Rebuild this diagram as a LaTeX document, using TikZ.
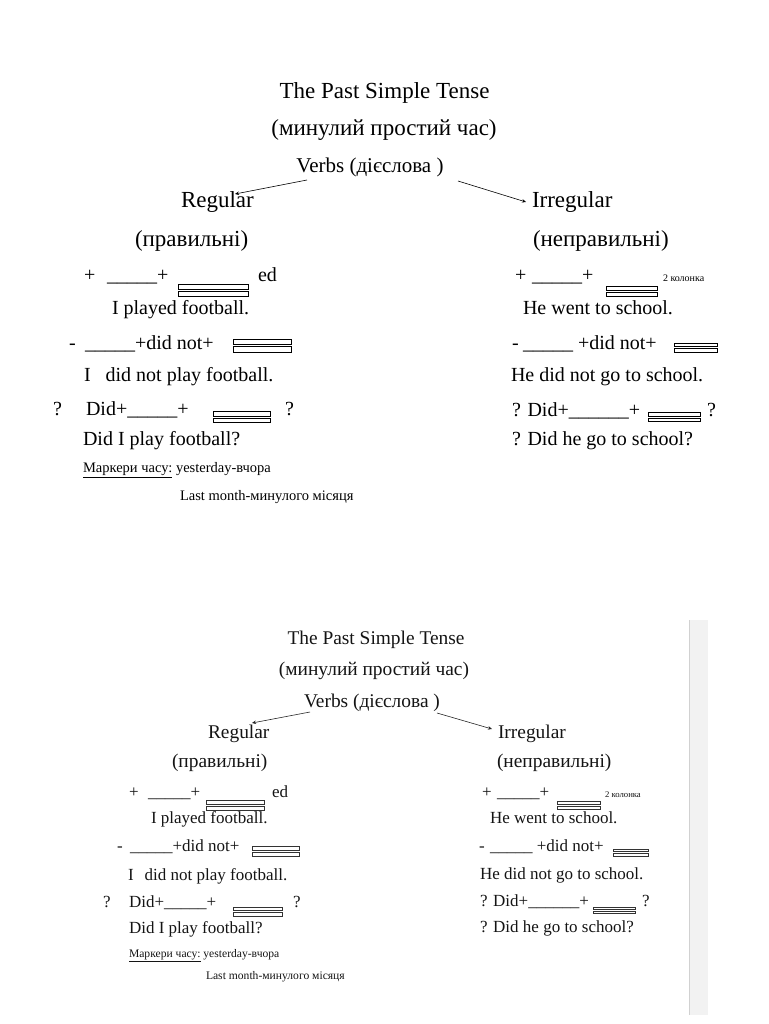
\documentclass[tikz,border=0pt]{standalone}
\usepackage{fontspec}
\setmainfont{Liberation Serif}
\usetikzlibrary{arrows.meta}
\newcommand{\dbl}[4]{%
  \draw[boxline] (#1,#2) rectangle (#3,{(#2+#4)/2-0.9});
  \draw[boxline] (#1,{(#2+#4)/2+0.9}) rectangle (#3,#4);}
\tikzset{
  base/.style={inner sep=0pt, outer sep=0pt, anchor=base west},
  ttl/.style={base, font=\fontsize{23}{27}\selectfont},
  tverb/.style={base, font=\fontsize{21}{25}\selectfont},
  tbody/.style={base, font=\fontsize{20}{24}\selectfont},
  tsmall/.style={base, font=\fontsize{14.5}{17}\selectfont},
  ttiny/.style={base, font=\fontsize{10}{12}\selectfont},
  btl/.style={base, text=black!92, font=\fontsize{19.4}{23}\selectfont},
  bbody/.style={base, text=black!92, font=\fontsize{17}{20}\selectfont},
  bsmall/.style={base, text=black!92, font=\fontsize{11.6}{14}\selectfont},
  btiny/.style={base, text=black!92, font=\fontsize{8.7}{10}\selectfont},
  boxline/.style={line width=0.8pt},
  arr/.style={line width=0.6pt, -{Stealth[length=4pt,width=3.5pt]}},
}
\begin{document}
\begin{tikzpicture}[x=1pt,y=-1pt]
\useasboundingbox (0,0) rectangle (768,1024);
% ================= TOP COPY =================
\node[ttl, anchor=base] (t1) at (384.5,99) {The Past Simple Tense};
\node[ttl, anchor=base] (t2) at (384,136) {(минулий простий час)};
\node[tverb, anchor=base] (t3) at (370,173) {Verbs (дієслова )};
\node[ttl] (treg) at (181,208) {Regular};
\node[ttl] (tirr) at (532,208) {Irregular};
\node[ttl] (tregu) at (135,246) {(правильні)};
\node[ttl] (tirru) at (533,246) {(неправильні)};
\coordinate (ta1) at (307,180); \coordinate (ta2) at (235,194);
\coordinate (tb1) at (458,181); \coordinate (tb2) at (526,202);
\draw[arr] (ta1) -- (ta2);
\draw[arr] (tb1) -- (tb2);
% left column
\node[tbody] (tl1a) at (84,281) {+};
\node[tbody] (tl1b) at (107,281) {\_\_\_\_\_+};
\dbl{178}{284}{248}{296.5}
\node[tbody] (tl1c) at (258,281) {ed};
\node[tbody] (tl2) at (112,314) {I played football.};
\node[tbody] (tl3a) at (69,349) {-};
\node[tbody] (tl3b) at (85,349) {\_\_\_\_\_+did not+};
\dbl{233}{339}{291}{352}
\node[tbody] (tl4) at (84,381) {I\hspace{15pt}did not play football.};
\node[tbody] (tl5a) at (53,415) {?};
\node[tbody] (tl5b) at (86,415) {Did+\_\_\_\_\_+};
\dbl{213}{411.7}{270}{422.3}
\node[tbody] (tl5c) at (285,415) {?};
\node[tbody] (tl6) at (83,445) {Did I play football?};
\node[tsmall] (tl7) at (83,472.7) {\underline{Маркери часу:} yesterday-вчора};
\node[tsmall] (tl8) at (180,500) {Last month-минулого місяця};
% right column
\node[tbody] (tr1a) at (515,281) {+};
\node[tbody] (tr1b) at (532,281) {\_\_\_\_\_+};
\dbl{606}{286}{657}{296}
\node[ttiny] (tr1c) at (663,281) {2 колонка};
\node[tbody] (tr2) at (523,314) {He went to school.};
\node[tbody] (tr3a) at (512,349) {-};
\node[tbody] (tr3b) at (523,349) {\_\_\_\_\_ +did not+};
\dbl{674}{343}{717}{352}
\node[tbody] (tr4) at (511,381) {He did not go to school.};
\node[tbody] (tr5a) at (512,416) {? Did+\_\_\_\_\_\_+};
\dbl{648}{412.7}{700}{421.7}
\node[tbody] (tr5b) at (707,416) {?};
\node[tbody] (tr6) at (512,445) {? Did he go to school?};
% ================= BOTTOM COPY (scan) =================
\fill[black!5] (689,620) rectangle (708,1015);
\draw[black!18, line width=0.8pt] (689,620) -- (689,1015);
\node[btl, anchor=base] (b1) at (376,644) {The Past Simple Tense};
\node[btl, anchor=base] (b2) at (374,675) {(минулий простий час)};
\node[btl, anchor=base] (b3) at (372,707) {Verbs (дієслова )};
\node[btl] (breg) at (208,738) {Regular};
\node[btl] (birr) at (498,738) {Irregular};
\node[btl] (bregu) at (172,767) {(правильні)};
\node[btl] (birru) at (497,767) {(неправильні)};
\coordinate (ba1) at (310,712); \coordinate (ba2) at (252,723);
\coordinate (bb1) at (437,713); \coordinate (bb2) at (492,729);
\draw[arr, black!85] (ba1) -- (ba2);
\draw[arr, black!85] (bb1) -- (bb2);
% left column
\node[bbody] (bl1a) at (129,797) {+};
\node[bbody] (bl1b) at (148,797) {\_\_\_\_\_+};
\begin{scope}[black!80]\dbl{206}{800.7}{264}{810}\end{scope}
\node[bbody] (bl1c) at (272,797) {ed};
\node[bbody] (bl2) at (151,823) {I played football.};
\node[bbody] (bl3a) at (117,851) {-};
\node[bbody] (bl3b) at (130,851) {\_\_\_\_\_+did not+};
\begin{scope}[black!80]\dbl{252}{846}{299}{856}\end{scope}
\node[bbody] (bl4) at (128,880) {I\hspace{11pt}did not play football.};
\node[bbody] (bl5a) at (103,907) {?};
\node[bbody] (bl5b) at (129,907) {Did+\_\_\_\_\_+};
\begin{scope}[black!80]\dbl{233}{907}{282}{916}\end{scope}
\node[bbody] (bl5c) at (293,907) {?};
\node[bbody] (bl6) at (129,933) {Did I play football?};
\node[bsmall] (bl7) at (129,957) {\underline{Маркери часу:} yesterday-вчора};
\node[bsmall] (bl8) at (206,979) {Last month-минулого місяця};
% right column
\node[bbody] (br1a) at (482,797) {+};
\node[bbody] (br1b) at (497,797) {\_\_\_\_\_+};
\begin{scope}[black!80]\dbl{557}{801}{600}{809}\end{scope}
\node[btiny] (br1c) at (605,797) {2 колонка};
\node[bbody] (br2) at (490,823) {He went to school.};
\node[bbody] (br3a) at (479,851) {-};
\node[bbody] (br3b) at (490,851) {\_\_\_\_\_ +did not+};
\begin{scope}[black!80]\dbl{613}{849}{648}{856}\end{scope}
\node[bbody] (br4) at (480,879) {He did not go to school.};
\node[bbody] (br5a) at (480,906) {? Did+\_\_\_\_\_\_+};
\begin{scope}[black!80]\dbl{593}{907}{635}{913}\end{scope}
\node[bbody] (br5b) at (642,906) {?};
\node[bbody] (br6) at (480,932) {? Did he go to school?};
\end{tikzpicture}
\end{document}
